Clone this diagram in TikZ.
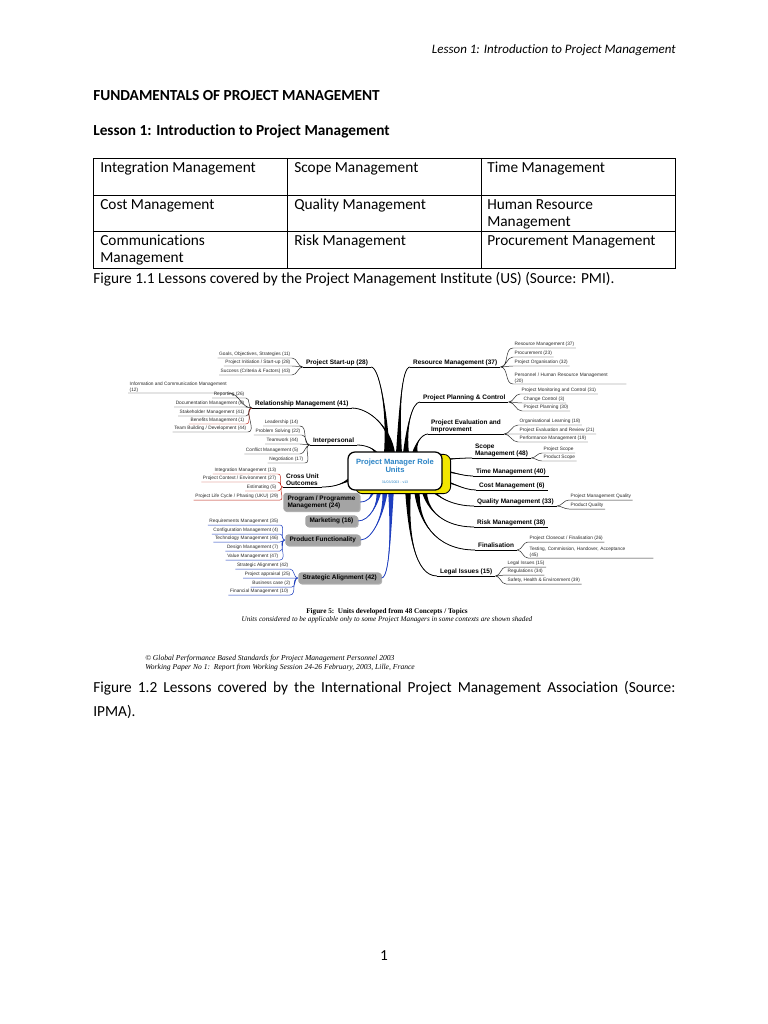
\documentclass[tikz,border=0pt]{standalone}
\usepackage{fontspec}
\setmainfont{Carlito}[Ligatures={NoCommon}]
\newfontfamily\mapfont{Liberation Sans}
\newfontfamily\capfont{Liberation Serif}
\usetikzlibrary{positioning,calc,shadows,backgrounds}
\definecolor{hubblue}{HTML}{2B84C6}
\definecolor{hubyellow}{HTML}{F2E600}
\definecolor{shadegray}{HTML}{A4A4A4}
\definecolor{crossred}{HTML}{C0281C}
\definecolor{funcblue}{HTML}{1F3FBF}
\definecolor{inkgray}{HTML}{2A2A2A}

\newcommand{\bodysize}{\fontsize{10.9}{12.1}\selectfont}
% tapered branch from a topic into the hub
\newcommand{\trunk}[6][black]{%
  \draw[#1, line width=0.55pt] (#2) .. controls (#3) and (#4) .. (#5);
  \fill[#1] (#2) .. controls (#3) and (#4) .. ($(#5)+(#6)$)
    -- ($(#5)-(#6)$) .. controls (#4) and (#3) .. (#2) -- cycle;}

\begin{document}
\begin{tikzpicture}[
  x=0.025cm, y=-0.025cm,
  page/.style={inner sep=0pt, anchor=base west, font=\bodysize},
  cell/.style={page, align=left},
  tabline/.style={line width=0.6pt},
  leaf/.style={font=\mapfont\fontsize{3.4}{3.9}\selectfont, text=inkgray,
    inner xsep=1pt, inner ysep=0.5pt},
  leafL/.style={leaf, text depth=0.8pt, anchor=south east},
  leafR/.style={leaf, text depth=0.8pt, anchor=south west},
  leafM/.style={leaf, align=left, anchor=south west},
  topic/.style={font=\mapfont\bfseries\fontsize{4.6}{5.1}\selectfont, text=black,
    inner xsep=2pt, inner ysep=0.6pt, anchor=south west},
  topicS/.style={topic, text depth=1pt},
  topicM/.style={topic, align=left},
  shadebox/.style={topic, anchor=west, align=left, fill=shadegray,
    rounded corners=2pt, inner xsep=3pt, inner ysep=1.8pt,
    drop shadow={shadow xshift=0.7pt, shadow yshift=-0.7pt, fill=black!60}},
  hub/.style={draw=black, line width=0.9pt, fill=white, rounded corners=5pt,
    minimum width=2.35cm, minimum height=0.95cm, inner sep=1pt, align=center,
    font=\mapfont\bfseries\fontsize{5.4}{5.9}\selectfont, text=hubblue},
  twig/.style={draw=#1, line width=0.35pt},
  twig/.default=inkgray,
  stem/.style={draw=#1, line width=0.6pt},
  stem/.default=black,
]

\begin{scope}[on background layer]
  \fill[white] (0,0) rectangle (768,1024);
\end{scope}
\useasboundingbox (0,0) rectangle (768,1024);

% --- page text ------------------------------------------------------
\node[page, font=\fontsize{9.2}{11}\selectfont\itshape, anchor=base east] (runhead) at (676,54)
  {Lesson 1: Introduction to Project Management};
\node[page, font=\bodysize\bfseries] (title) at (93,101)
  {FUNDAMENTALS OF PROJECT MANAGEMENT};
\node[page, font=\bodysize\bfseries] (lesson) at (93,136)
  {Lesson 1: Introduction to Project Management};

% --- table of PMI lessons -------------------------------------------
\draw[tabline] (93,158) rectangle (675,268);
\draw[tabline] (287,158) -- (287,268) (481,158) -- (481,268)
  (93,195) -- (675,195) (93,231) -- (675,231);
\node[cell] (intmgmt)   at (100,172.5) {Integration Management};
\node[cell] (scopemgmt) at (294,172.5) {Scope Management};
\node[cell] (timemgmt)  at (487,172.5) {Time Management};
\node[cell] (costmgmt)  at (100,209.5) {Cost Management};
\node[cell] (qualmgmt)  at (294,209.5) {Quality Management};
\node[cell] (hrmgmt)    at (487,226.5) {Human Resource\\Management};
\node[cell] (commgmt)   at (100,262.5) {Communications\\Management};
\node[cell] (riskmgmt)  at (294,245.5) {Risk Management};
\node[cell] (procmgmt)  at (487,245.5) {Procurement Management};
\node[page] (fig1cap) at (93,283.5)
  {Figure 1.1 Lessons covered by the Project Management Institute (US) (Source: PMI).};

% --- mind map: hub --------------------------------------------------
\node[hub] (hub) at (395,471) {Project Manager Role\\Units\\[1.4pt]%
  {\mdseries\fontsize{2.5}{3}\selectfont 31/03/2003 - v13}};

\coordinate (hStartup)  at ($(hub.north)+(-8,2)$);
\coordinate (hRelation) at ($(hub.north)+(-3,2)$);
\coordinate (hResource) at ($(hub.north)+(4,2)$);
\coordinate (hPlanning) at ($(hub.north)+(11,2)$);
\coordinate (hEval)     at ($(hub.north)+(20,2)$);
\coordinate (hInter)    at ($(hub.north)+(-18,3)$);
\coordinate (hScope)    at ($(hub.north east)+(-4,8)$);
\coordinate (hTime)     at ($(hub.east)+(-3,0)$);
\coordinate (hCost)     at ($(hub.east)+(-3,10)$);
\coordinate (hQuality)  at ($(hub.south)+(36,-2)$);
\coordinate (hRisk)     at ($(hub.south)+(29,-2)$);
\coordinate (hFinal)    at ($(hub.south)+(22,-2)$);
\coordinate (hLegal)    at ($(hub.south)+(13,-2)$);
\coordinate (hCross)    at ($(hub.west)+(3,8)$);
\coordinate (hProg)     at ($(hub.south)+(-22,-2)$);
\coordinate (hMarket)   at ($(hub.south)+(-16,-2)$);
\coordinate (hProduct)  at ($(hub.south)+(-10,-2)$);
\coordinate (hStrat)    at ($(hub.south)+(-4,-2)$);

% --- left topics ----------------------------------------------------
\node[topicS] (startup) at (303,367) {Project Start-up (28)};
\node[leafL] (goals)      at (292,358) {Goals, Objectives, Strategies (11)};
\node[leafL] (initiation) at (292,366) {Project Initiation / Start-up (28)};
\node[leafL] (success)    at (292,375) {Success (Criteria \& Factors) (43)};

\node[topicS] (relation) at (252,408) {Relationship Management (41)};
\node[leafM] (infocomm)      at (128,393) {Information and Communication Management\\(12)};
\node[leafL] (reporting)     at (246,398) {Reporting (26)};
\node[leafL] (documentation) at (246,407) {Documentation Management (8)};
\node[leafL] (stakeholder)   at (246,416) {Stakeholder Management (41)};
\node[leafL] (benefits)      at (246,424) {Benefits Management (1)};
\node[leafL] (teambuild)     at (248,432) {Team Building / Development (44)};

\node[topicS] (inter) at (310,445) {Interpersonal};
\node[leafL] (leadership)  at (300,426) {Leadership (14)};
\node[leafL] (problem)     at (302,435) {Problem Solving (22)};
\node[leafL] (teamwork)    at (300,444) {Teamwork (44)};
\node[leafL] (conflict)    at (300,454) {Conflict Management (5)};
\node[leafL] (negotiation) at (305,463) {Negotiation (17)};

\node[topicM] (cross) at (283,487) {Cross Unit\\Outcomes};
\node[leafL] (integration) at (278,474) {Integration Management (13)};
\node[leafL] (context)     at (278,482) {Project Context / Environment (27)};
\node[leafL] (estimating)  at (278,491) {Estimating (5)};
\node[leafL] (lifecycle)   at (280,500) {Project Life Cycle / Phasing (UKU) (29)};

\node[shadebox] (programme) at (283,502) {Program / Programme\\Management (24)};
\node[shadebox] (marketing) at (305,521) {Marketing (16)};
\node[shadebox] (product)   at (285,540) {Product Functionality};
\node[leafL] (requirements)  at (280,525) {Requirements Management (35)};
\node[leafL] (configuration) at (280,534) {Configuration Management (4)};
\node[leafL] (technology)    at (280,542) {Technology Management (46)};
\node[leafL] (design)        at (280,551) {Design Management (7)};
\node[leafL] (value)         at (280,560) {Value Management (47)};

\node[shadebox] (strategic) at (298,578) {Strategic Alignment (42)};
\node[leafL] (stratalign) at (290,569) {Strategic Alignment (42)};
\node[leafL] (appraisal)  at (292,578) {Project appraisal (25)};
\node[leafL] (business)   at (292,587) {Business case (2)};
\node[leafL] (financial)  at (290,595) {Financial Management (10)};

% --- right topics ---------------------------------------------------
\node[topicS] (resource) at (410,367) {Resource Management (37)};
\node[leafR] (resmgmt)      at (513,348) {Resource Management (37)};
\node[leafR] (procurement)  at (513,357) {Procurement (23)};
\node[leafR] (organisation) at (513,366) {Project Organisation (32)};
\node[leafM, text width=2.75cm] (personnel) at (513,384)
  {Personnel / Human Resource Management\\(20)};

\node[topicS] (planning) at (420,402) {Project Planning \& Control};
\node[leafR] (monitoring) at (520,394) {Project Monitoring and Control (31)};
\node[leafR] (change)     at (522,403) {Change Control (3)};
\node[leafR] (projplan)   at (522,411) {Project Planning (30)};

\node[topicM] (evaluation) at (428,434) {Project Evaluation and\\Improvement};
\node[leafR] (orglearn)    at (518,425) {Organisational Learning (18)};
\node[leafR] (evalreview)  at (518,434) {Project Evaluation and Review (21)};
\node[leafR] (performance) at (518,442) {Performance Management (19)};

\node[topicM] (scope) at (472,458) {Scope\\Management (48)};
\node[leafR] (projscope) at (542,453) {Project Scope};
\node[leafR] (prodscope) at (542,461) {Product Scope};

\node[topicS] (time) at (473,476) {Time Management (40)};
\node[topicS] (cost) at (476,490) {Cost Management (6)};

\node[topicS] (quality) at (474,506) {Quality Management (33)};
\node[leafR] (pmquality)   at (569,500) {Project Management Quality};
\node[leafR] (prodquality) at (569,509) {Product Quality};

\node[topicS] (risk) at (474,527) {Risk Management (38)};

\node[topicS] (final) at (475,550) {Finalisation};
\node[leafR] (closeout) at (528,542) {Project Closeout / Finalisation (26)};
\node[leafM, text width=3.05cm] (testing) at (528,558)
  {Testing, Commission, Handover, Acceptance\\(45)};

\node[topicS] (legal) at (437,576) {Legal Issues (15)};
\node[leafR] (legalleaf)   at (506,567) {Legal Issues (15)};
\node[leafR] (regulations) at (506,575) {Regulations (34)};
\node[leafR] (safety)      at (506,584) {Safety, Health \& Environment (39)};

% --- underlines and twigs -------------------------------------------
\draw[stem] (startup.south west) -- (startup.south east)
  (relation.south west) -- (relation.south east)
  (inter.south west) -- (inter.south east)
  (cross.south west) -- (cross.south east)
  (resource.south west) -- (resource.south east)
  (planning.south west) -- (planning.south east)
  (evaluation.south west) -- (evaluation.south east)
  (scope.south west) -- (scope.south east)
  (time.south west) -- (time.south east)
  (cost.south west) -- (cost.south east)
  (quality.south west) -- (quality.south east)
  (risk.south west) -- (risk.south east)
  (final.south west) -- (final.south east)
  (legal.south west) -- (legal.south east);

\draw[twig]
  (goals.south west) -- (goals.south east) to[out=0,in=180] (startup.south west)
  (initiation.south west) -- (initiation.south east) to[out=0,in=180] (startup.south west)
  (success.south west) -- (success.south east) to[out=0,in=180] (startup.south west);
\draw[twig]
  (infocomm.south west) -- (infocomm.south east) to[out=0,in=180] (relation.south west)
  (reporting.south west) -- (reporting.south east) to[out=0,in=180] (relation.south west)
  (documentation.south west) -- (documentation.south east) to[out=0,in=180] (relation.south west)
  (stakeholder.south west) -- (stakeholder.south east) to[out=0,in=180] (relation.south west)
  (teambuild.south west) -- (teambuild.south east) to[out=0,in=180] (relation.south west);
\draw[twig=crossred]
  (benefits.south west) -- (benefits.south east) to[out=0,in=180] (relation.south west);
\draw[twig]
  (leadership.south west) -- (leadership.south east) to[out=0,in=180] (inter.south west)
  (problem.south west) -- (problem.south east) to[out=0,in=180] (inter.south west)
  (teamwork.south west) -- (teamwork.south east) to[out=0,in=180] (inter.south west)
  (conflict.south west) -- (conflict.south east) to[out=0,in=180] (inter.south west)
  (negotiation.south west) -- (negotiation.south east) to[out=0,in=180] (inter.south west);
\draw[twig=crossred]
  (integration.south west) -- (integration.south east) to[out=0,in=180] (cross.south west)
  (context.south west) -- (context.south east) to[out=0,in=180] (cross.south west)
  (estimating.south west) -- (estimating.south east) to[out=0,in=180] (cross.south west)
  (lifecycle.south west) -- (lifecycle.south east) to[out=0,in=180] (cross.south west);
\draw[twig=funcblue]
  (requirements.south west) -- (requirements.south east) to[out=0,in=180] (product.west)
  (configuration.south west) -- (configuration.south east) to[out=0,in=180] (product.west)
  (technology.south west) -- (technology.south east) to[out=0,in=180] (product.west)
  (design.south west) -- (design.south east) to[out=0,in=180] (product.west)
  (value.south west) -- (value.south east) to[out=0,in=180] (product.west);
\draw[twig=funcblue]
  (stratalign.south west) -- (stratalign.south east) to[out=0,in=180] (strategic.west)
  (appraisal.south west) -- (appraisal.south east) to[out=0,in=180] (strategic.west)
  (business.south west) -- (business.south east) to[out=0,in=180] (strategic.west)
  (financial.south west) -- (financial.south east) to[out=0,in=180] (strategic.west);

\draw[twig]
  (resource.south east) to[out=0,in=180] (resmgmt.south west) -- (resmgmt.south east)
  (resource.south east) to[out=0,in=180] (procurement.south west) -- (procurement.south east)
  (resource.south east) to[out=0,in=180] (organisation.south west) -- (organisation.south east)
  (resource.south east) to[out=0,in=180] (personnel.south west) -- (personnel.south east);
\draw[twig]
  (planning.south east) to[out=0,in=180] (monitoring.south west) -- (monitoring.south east)
  (planning.south east) to[out=0,in=180] (change.south west) -- (change.south east)
  (planning.south east) to[out=0,in=180] (projplan.south west) -- (projplan.south east);
\draw[twig]
  (evaluation.south east) to[out=0,in=180] (orglearn.south west) -- (orglearn.south east)
  (evaluation.south east) to[out=0,in=180] (evalreview.south west) -- (evalreview.south east)
  (evaluation.south east) to[out=0,in=180] (performance.south west) -- (performance.south east);
\draw[twig]
  (scope.south east) to[out=0,in=180] (projscope.south west) -- (projscope.south east)
  (scope.south east) to[out=0,in=180] (prodscope.south west) -- (prodscope.south east);
\draw[twig]
  (quality.south east) to[out=0,in=180] (pmquality.south west) -- (pmquality.south east)
  (quality.south east) to[out=0,in=180] (prodquality.south west) -- (prodquality.south east);
\draw[twig]
  (final.south east) to[out=0,in=180] (closeout.south west) -- (closeout.south east)
  (final.south east) to[out=0,in=180] (testing.south west) -- (testing.south east);
\draw[twig]
  (legal.south east) to[out=0,in=180] (legalleaf.south west) -- (legalleaf.south east)
  (legal.south east) to[out=0,in=180] (regulations.south west) -- (regulations.south east)
  (legal.south east) to[out=0,in=180] (safety.south west) -- (safety.south east);

% --- trunks into the hub --------------------------------------------
\begin{scope}[on background layer]
  \trunk{startup.south east}{$(startup.south east)+(8,0)$}{$(hStartup)+(0,-45)$}{hStartup}{3,0}
  \trunk{relation.south east}{$(relation.south east)+(18,0)$}{$(hRelation)+(0,-25)$}{hRelation}{3,0}
  \trunk{inter.south east}{$(inter.south east)+(8,0)$}{$(hInter)+(-2,-6)$}{hInter}{2.5,0}
  \trunk{cross.south east}{$(cross.south east)+(16,0)$}{$(hCross)+(-6,3)$}{hCross}{0,2.5}
  \trunk{resource.south west}{$(resource.south west)+(-8,0)$}{$(hResource)+(0,-45)$}{hResource}{3,0}
  \trunk{planning.south west}{$(planning.south west)+(-8,0)$}{$(hPlanning)+(0,-25)$}{hPlanning}{3,0}
  \trunk{evaluation.south west}{$(evaluation.south west)+(-6,0)$}{$(hEval)+(0,-10)$}{hEval}{3,0}
  \trunk{scope.south west}{$(scope.south west)+(-14,0)$}{$(hScope)+(12,0)$}{hScope}{0,2.5}
  \trunk{time.south west}{$(time.south west)+(-12,0)$}{$(hTime)+(12,0)$}{hTime}{0,2.5}
  \trunk{cost.south west}{$(cost.south west)+(-14,0)$}{$(hCost)+(12,0)$}{hCost}{0,2.5}
  \trunk{quality.south west}{$(quality.south west)+(-22,0)$}{$(hQuality)+(6,8)$}{hQuality}{3,0}
  \trunk{risk.south west}{$(risk.south west)+(-30,0)$}{$(hRisk)+(2,22)$}{hRisk}{3,0}
  \trunk{final.south west}{$(final.south west)+(-40,0)$}{$(hFinal)+(0,32)$}{hFinal}{3,0}
  \trunk{legal.south west}{$(legal.south west)+(-22,0)$}{$(hLegal)+(0,45)$}{hLegal}{3,0}
  \trunk[funcblue]{programme.east}{$(programme.east)+(8,0)$}{$(hProg)+(0,8)$}{hProg}{3,0}
  \trunk[funcblue]{marketing.east}{$(marketing.east)+(12,0)$}{$(hMarket)+(0,15)$}{hMarket}{3,0}
  \trunk[funcblue]{product.east}{$(product.east)+(12,0)$}{$(hProduct)+(0,25)$}{hProduct}{3,0}
  \trunk[funcblue]{strategic.east}{$(strategic.east)+(8,0)$}{$(hStrat)+(0,45)$}{hStrat}{3,0}
  \draw[fill=hubyellow, line width=0.6pt, rounded corners=5pt]
    ($(hub.north west)+(8,3)$) rectangle ($(hub.south east)+(8,3)$);
\end{scope}

% --- figure notes ---------------------------------------------------
\node[font=\capfont\bfseries\fontsize{5.1}{5.8}\selectfont, inner sep=0pt, anchor=base]
  (fig5) at (387,613) {Figure 5:\ \ Units developed from 48 Concepts / Topics};
\node[font=\capfont\itshape\fontsize{5.1}{5.8}\selectfont, inner sep=0pt, anchor=base]
  (fig5note) at (387,621)
  {Units considered to be applicable only to some Project Managers in some contexts are shown shaded};
\node[font=\capfont\itshape\fontsize{5.4}{5.7}\selectfont, inner sep=0pt, anchor=base west,
  align=left] (source) at (145,669)
  {© Global Performance Based Standards for Project Management Personnel 2003\\
   Working Paper No 1:\ \ Report from Working Session 24-26 February, 2003, Lille, France};

% --- caption and page number ----------------------------------------
\node[page, text width=14.55cm, align=justify, font=\fontsize{10.9}{17.1}\selectfont]
  (fig2cap) at (93,692.5)
  {Figure 1.2 Lessons covered by the International Project Management Association (Source:\linebreak IPMA).};
\node[page, anchor=base] (pagenum) at (384,960) {1};

\end{tikzpicture}
\end{document}
